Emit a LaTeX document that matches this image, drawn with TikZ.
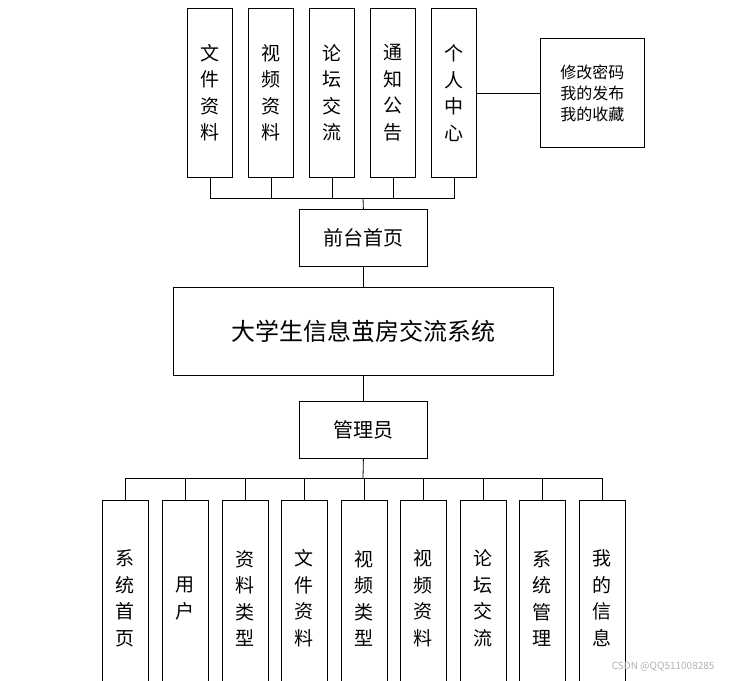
\documentclass[tikz,border=0pt]{standalone}
\usepackage{fontspec}
\setmainfont{Noto Sans CJK SC}
\begin{document}
\begin{tikzpicture}[x=1pt,y=-1pt,
  box/.style={draw,line width=0.8pt,inner sep=0pt,anchor=north west},
  vt/.style={align=center,font=\fontsize{19}{26.5}\selectfont},
  ln/.style={line width=0.8pt}]
\clip (0,0) rectangle (740,681);
\fill[white] (0,0) rectangle (740,681);
% top boxes
\foreach \x/\t [count=\i] in {187/文\\件\\资\\料,248/视\\频\\资\\料,309/论\\坛\\交\\流,370/通\\知\\公\\告,431/个\\人\\中\\心}{
  \node[box,minimum width=45pt,minimum height=169pt] (t\i) at (\x,8) {};
  \node[vt] at (t\i.center) {\t};
}
\node[box,minimum width=104pt,minimum height=109pt,align=center,font=\fontsize{16}{21}\selectfont] (side) at (540,38) {修改密码\\我的发布\\我的收藏};
\draw[ln] (t5.east) -- (side.west);
\node[box,minimum width=128pt,minimum height=57pt,font=\fontsize{20}{24}\selectfont] (qt) at (299,209) {前台首页};
\node[box,minimum width=380pt,minimum height=88pt,font=\fontsize{24}{28}\selectfont] (sys) at (173,287) {大学生信息茧房交流系统};
\node[box,minimum width=128pt,minimum height=57pt,font=\fontsize{20}{24}\selectfont] (adm) at (299,401) {管理员};
\coordinate (tj) at (363,198);
\foreach \i in {1,...,5}{\draw[ln] (t\i.south) |- (tj);}
\draw[ln] (tj) -- (qt.north);
\draw[ln] (qt.south) -- (sys.north);
\draw[ln] (sys.south) -- (adm.north);
% bottom boxes
\coordinate (bj) at (363,478);
\draw[ln] (adm.south) -- (bj);
\foreach \x/\t [count=\i] in {102/系\\统\\首\\页,162/用\\户,222/资\\料\\类\\型,281/文\\件\\资\\料,341/视\\频\\类\\型,400/视\\频\\资\\料,460/论\\坛\\交\\流,519/系\\统\\管\\理,579/我\\的\\信\\息}{
  \node[box,minimum width=46pt,minimum height=196pt] (b\i) at (\x,500) {};
  \node[vt] at (b\i.center) {\t};
  \draw[ln] (b\i.north) |- (bj);
}
\node[text=gray!60,font=\fontsize{10}{12}\selectfont,anchor=east] (wm) at (718,667) {CSDN @QQ511008285};
\end{tikzpicture}
\end{document}
